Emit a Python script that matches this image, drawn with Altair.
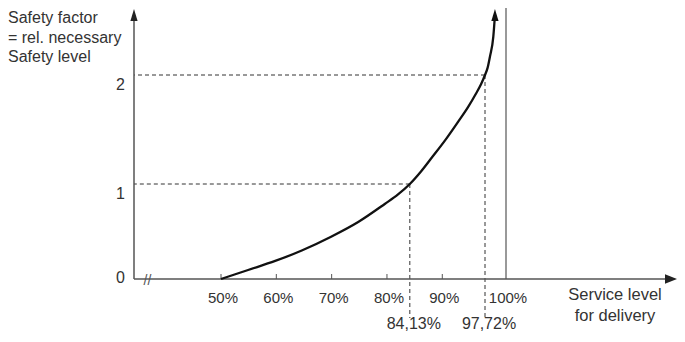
import altair as alt
import pandas as pd

# ---- data ----
service_level = [50, 54.9, 59.8, 64.6, 69.9, 74.8, 79.6, 82.0, 84.13, 86.15, 88.15, 90.5,
                 92.85, 94.65, 96.1, 97.0, 97.72, 98.0, 98.26, 98.62, 98.8]
safety_factor = [0, 0.095, 0.19, 0.30, 0.445, 0.60, 0.79, 0.89, 1.0, 1.115, 1.245, 1.40,
                 1.57, 1.705, 1.83, 1.915, 2.0, 2.065, 2.17, 2.35, 2.55]

tick_values = [50, 60, 70, 80, 90]
tick_label_values = [50, 60, 70, 80, 90, 100]
tick_labels = ["50%", "60%", "70%", "80%", "90%", "100%"]

marked_levels = [84.13, 97.72]
marked_factors = [1, 2]
marked_labels = ["84,13%", "97,72%"]

y_label_values = [1, 2]
y_labels = ["1", "2"]
y_zero_value = [0]
y_zero_label = ["0"]

limit_level = [100]

y_title_lines = ["Safety factor", "= rel. necessary", "Safety level"]
x_title_lines = ["Service level", "for delivery"]

FONT = "Liberation Sans"
TXT = "#333333"
AX = "#555555"

xs = alt.Scale(domain=[50, 97.72, 100], range=[213, 477, 498], nice=False, zero=False)
ys = alt.Scale(domain=[0, 1, 2], range=[271, 176, 67], nice=False, zero=False)

curve_df = pd.DataFrame({"p": service_level, "z": safety_factor})
tip_df = curve_df.tail(1)
marks_df = pd.DataFrame({"p": marked_levels, "z": marked_factors, "lab": marked_labels})
ticks_df = pd.DataFrame({"p": tick_values})
tlab_df = pd.DataFrame({"p": tick_label_values, "lab": tick_labels})
ylab_df = pd.DataFrame({"z": y_label_values, "lab": y_labels})
y0_df = pd.DataFrame({"z": y_zero_value, "lab": y_zero_label})
lim_df = pd.DataFrame({"p": limit_level})
one = pd.DataFrame({"a": [0]})

X = lambda f: alt.X(f, type="quantitative", scale=xs, axis=None)
Y = lambda f: alt.Y(f, type="quantitative", scale=ys, axis=None)

# axes (decorative)
y_axis = alt.Chart(one).mark_rule(color=AX, strokeWidth=1.5).encode(
    x=alt.value(126), y=alt.value(12), y2=alt.value(271))
y_head = alt.Chart(one).mark_point(shape="M0,-1L0.6,1L-0.6,1Z", filled=True, color="#222",
                                   size=144, opacity=1).encode(x=alt.value(126), y=alt.value(7))
x_axis = alt.Chart(one).mark_rule(color=AX, strokeWidth=1.5).encode(
    y=alt.value(271), x=alt.value(126), x2=alt.value(660))
x_head = alt.Chart(one).mark_point(shape="M1,0L-1,-0.8L-1,0.8Z", filled=True, color="#222",
                                   size=144, opacity=1).encode(x=alt.value(663), y=alt.value(271))
brk = alt.Chart(one).mark_text(text="//", font=FONT, fontSize=14, color=AX,
                               align="center", baseline="alphabetic").encode(
    x=alt.value(139.5), y=alt.value(277))

limit = alt.Chart(lim_df).mark_rule(color="#777777", strokeWidth=1.5).encode(
    x=X("p"), y=alt.value(0), y2=alt.value(271))

ticks = alt.Chart(ticks_df).mark_rule(color=AX, strokeWidth=1).encode(
    x=X("p"), y=alt.value(266), y2=alt.value(271))

tick_text = alt.Chart(tlab_df).mark_text(font=FONT, fontSize=15, color=TXT, align="center",
                                         baseline="alphabetic", dx=2).encode(
    x=X("p"), y=alt.value(295), text="lab:N")

h_dash = alt.Chart(marks_df).mark_rule(color="#333333", strokeWidth=1, strokeDash=[4, 3]).encode(
    x=X("p"), x2=alt.value(126), y=Y("z"))
v_dash = alt.Chart(marks_df).mark_rule(color="#333333", strokeWidth=1, strokeDash=[4, 3]).encode(
    x=X("p"), y=Y("z"), y2=alt.value(310))
mark_text = alt.Chart(marks_df).mark_text(font=FONT, fontSize=16, color=TXT, align="center",
                                          baseline="alphabetic", dx=4).encode(
    x=X("p"), y=alt.value(321), text="lab:N")

ylab = alt.Chart(ylab_df).mark_text(font=FONT, fontSize=16, color=TXT, align="right",
                                    baseline="alphabetic", dy=15).encode(
    x=alt.value(117), y=Y("z"), text="lab:N")
y0lab = alt.Chart(y0_df).mark_text(font=FONT, fontSize=16, color=TXT, align="right",
                                   baseline="alphabetic", dy=4).encode(
    x=alt.value(117), y=Y("z"), text="lab:N")

curve = alt.Chart(curve_df).mark_line(color="#111111", strokeWidth=2.3, interpolate="monotone").encode(
    x=X("p"), y=Y("z"), order="p:Q")
tip = alt.Chart(tip_df).mark_point(shape="M0,-1L0.6,1L-0.6,1Z", filled=True, color="#111111",
                                   size=144, opacity=1).encode(x=X("p"), y=Y("z"))

y_title = alt.Chart(one).mark_text(text=y_title_lines, font=FONT, fontSize=16, color=TXT,
                                   align="left", baseline="alphabetic", lineHeight=19.5).encode(
    x=alt.value(0), y=alt.value(15))
x_title = alt.Chart(one).mark_text(text=x_title_lines, font=FONT, fontSize=16.5, color=TXT,
                                   align="center", baseline="alphabetic", lineHeight=21).encode(
    x=alt.value(607), y=alt.value(292))

chart = alt.layer(
    limit, h_dash, v_dash, y_axis, y_head, x_axis, x_head, brk, ticks, tick_text,
    mark_text, ylab, y0lab, curve, tip, y_title, x_title
).properties(
    width=669, height=326, padding=0,
    autosize=alt.AutoSizeParams(type="none")
).configure_view(stroke=None)

chart.save("out.html", embed_options={"renderer": "svg", "actions": False})
